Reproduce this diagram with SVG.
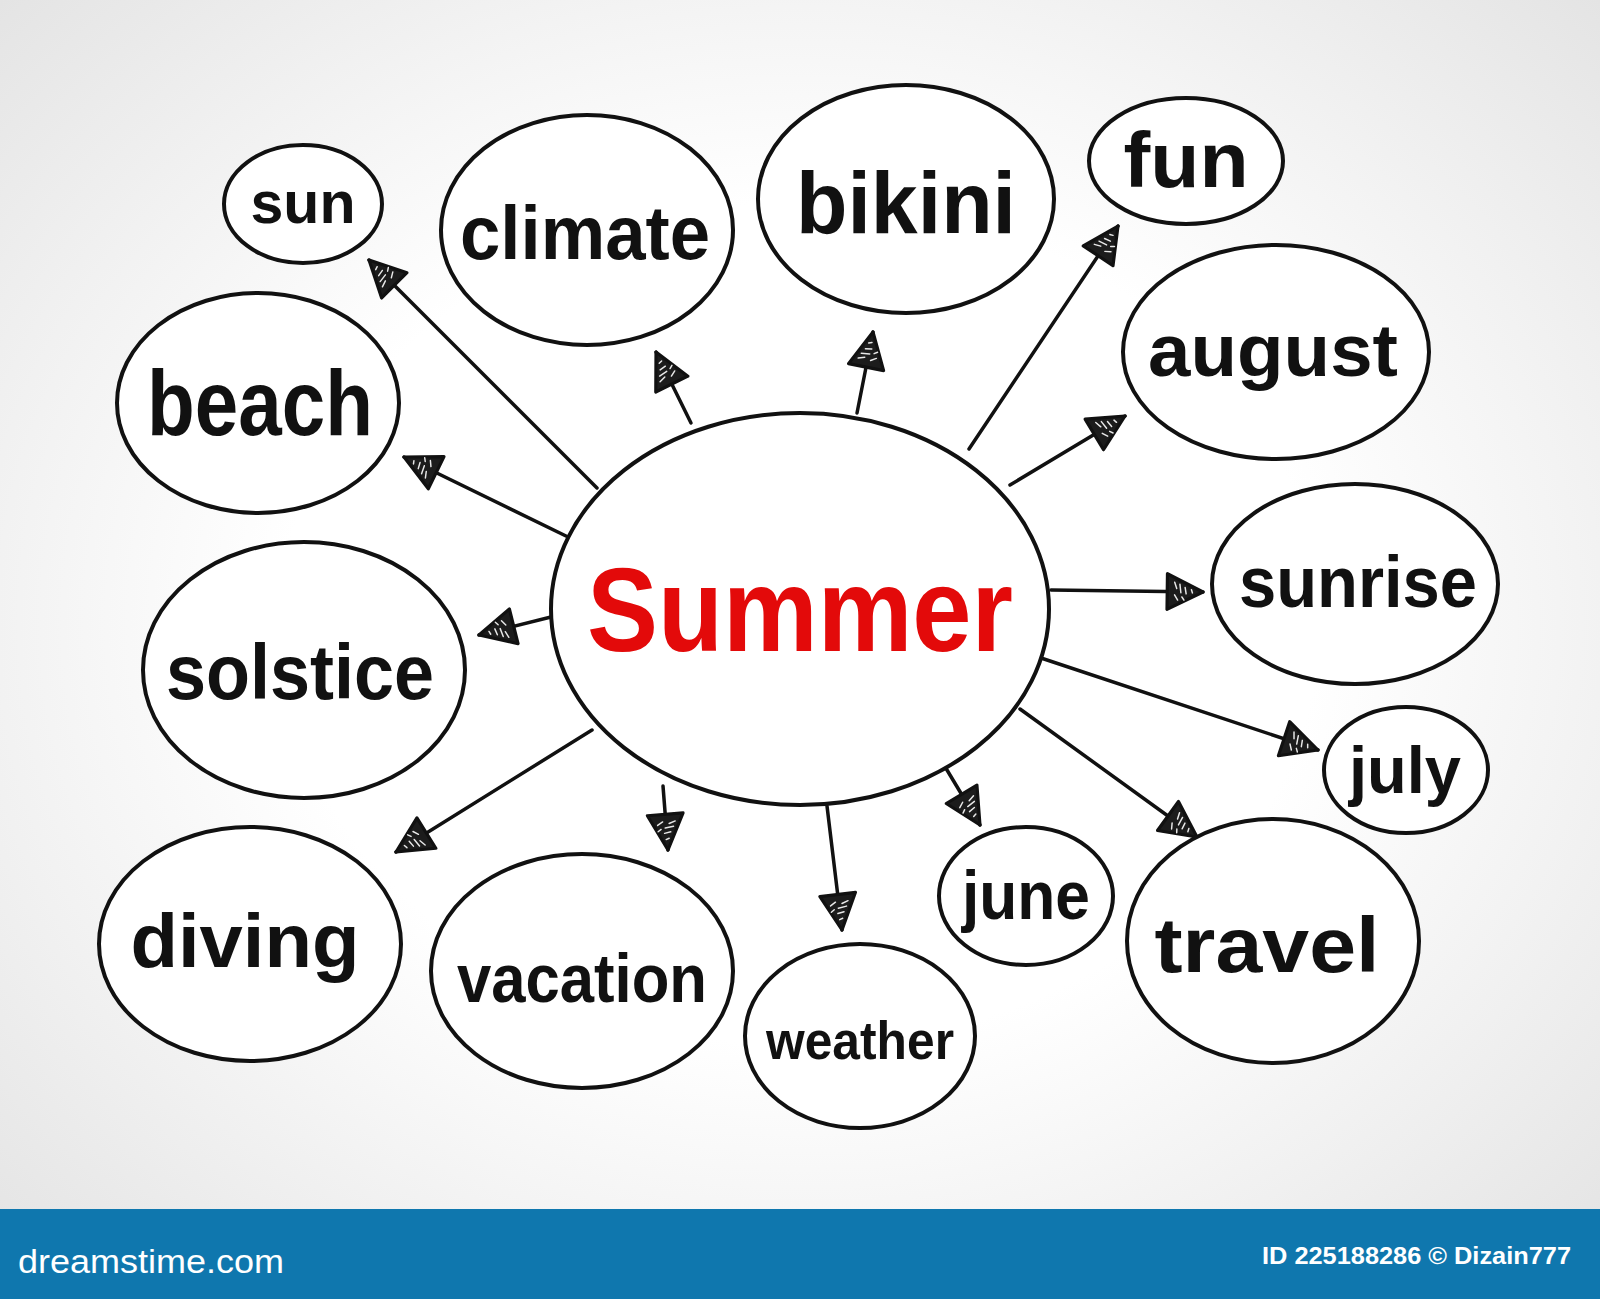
<svg xmlns="http://www.w3.org/2000/svg" width="1600" height="1299" viewBox="0 0 1600 1299">
<defs>
<radialGradient id="bg" cx="50%" cy="48%" r="72%">
<stop offset="0.45" stop-color="#ffffff"/>
<stop offset="1" stop-color="#e2e2e2"/>
</radialGradient>
<marker id="ah" markerUnits="userSpaceOnUse" markerWidth="40" markerHeight="40" viewBox="0 0 38 38" refX="36" refY="19" orient="auto">
<path d="M2,2 L36,19 L2,36 Z" fill="#1c1c1c" stroke="#111" stroke-width="3" stroke-linejoin="round"/>
<path d="M9,10 L11,16 M14,12 L15,20 M9,22 L12,27 M19,15 L20,21 M16,24 L18,27 M25,17 L26,20" stroke="#e8e8e8" stroke-width="1.4" stroke-linecap="round"/>
</marker>
<style>
.n ellipse{fill:#fff;stroke:#111;stroke-width:4}
.n text{font-family:"Liberation Sans",Arial,sans-serif;font-weight:bold;fill:#111;text-anchor:middle;dominant-baseline:central}
#connectors line{stroke:#111;stroke-width:3.5;stroke-linecap:round;marker-end:url(#ah)}
</style>
</defs>
<rect width="1600" height="1299" fill="url(#bg)"/>

<g id="connectors">
<line x1="597" y1="488" x2="369" y2="260"/>
<line x1="691" y1="423" x2="656" y2="352"/>
<line x1="857" y1="413" x2="873" y2="332"/>
<line x1="969" y1="449" x2="1118" y2="226"/>
<line x1="1010" y1="485" x2="1125" y2="416"/>
<line x1="566" y1="536" x2="404" y2="457"/>
<line x1="1051" y1="590" x2="1203" y2="592"/>
<line x1="551" y1="617" x2="479" y2="635"/>
<line x1="1041" y1="658" x2="1318" y2="750"/>
<line x1="1020" y1="709" x2="1197" y2="837"/>
<line x1="944" y1="765" x2="980" y2="825"/>
<line x1="827" y1="806" x2="842" y2="930"/>
<line x1="663" y1="786" x2="668" y2="850"/>
<line x1="592" y1="730" x2="396" y2="852"/>
</g>

<g id="center" class="n">
<ellipse cx="800" cy="609" rx="249" ry="196" stroke-width="5"/>
<text x="800" y="610" font-size="118" textLength="426" lengthAdjust="spacingAndGlyphs" style="fill:#e30a0a">Summer</text>
</g>
<g id="sun" class="n"><ellipse cx="303" cy="204" rx="79" ry="59"/><text x="303" y="202" font-size="60" textLength="105" lengthAdjust="spacingAndGlyphs">sun</text></g>
<g id="climate" class="n"><ellipse cx="587" cy="230" rx="146" ry="115"/><text x="585" y="232" font-size="76" textLength="250" lengthAdjust="spacingAndGlyphs">climate</text></g>
<g id="bikini" class="n"><ellipse cx="906" cy="199" rx="148" ry="114"/><text x="906" y="202" font-size="88" textLength="220" lengthAdjust="spacingAndGlyphs">bikini</text></g>
<g id="fun" class="n"><ellipse cx="1186" cy="161" rx="97" ry="63"/><text x="1186" y="160" font-size="78" textLength="125" lengthAdjust="spacingAndGlyphs">fun</text></g>
<g id="august" class="n"><ellipse cx="1276" cy="352" rx="153" ry="107"/><text x="1273" y="350" font-size="74" textLength="250" lengthAdjust="spacingAndGlyphs">august</text></g>
<g id="beach" class="n"><ellipse cx="258" cy="403" rx="141" ry="110"/><text x="260" y="403" font-size="92" textLength="226" lengthAdjust="spacingAndGlyphs">beach</text></g>
<g id="sunrise" class="n"><ellipse cx="1355" cy="584" rx="143" ry="100"/><text x="1358" y="582" font-size="72" textLength="238" lengthAdjust="spacingAndGlyphs">sunrise</text></g>
<g id="solstice" class="n"><ellipse cx="304" cy="670" rx="161" ry="128"/><text x="300" y="672" font-size="78" textLength="268" lengthAdjust="spacingAndGlyphs">solstice</text></g>
<g id="july" class="n"><ellipse cx="1406" cy="770" rx="82" ry="63"/><text x="1405" y="770" font-size="66" textLength="112" lengthAdjust="spacingAndGlyphs">july</text></g>
<g id="diving" class="n"><ellipse cx="250" cy="944" rx="151" ry="117"/><text x="245" y="940" font-size="76" textLength="229" lengthAdjust="spacingAndGlyphs">diving</text></g>
<g id="vacation" class="n"><ellipse cx="582" cy="971" rx="151" ry="117"/><text x="582" y="978" font-size="68" textLength="250" lengthAdjust="spacingAndGlyphs">vacation</text></g>
<g id="weather" class="n"><ellipse cx="860" cy="1036" rx="115" ry="92"/><text x="860" y="1040" font-size="54" textLength="188" lengthAdjust="spacingAndGlyphs">weather</text></g>
<g id="june" class="n"><ellipse cx="1026" cy="896" rx="87" ry="69"/><text x="1026" y="895" font-size="68" textLength="128" lengthAdjust="spacingAndGlyphs">june</text></g>
<g id="travel" class="n"><ellipse cx="1273" cy="941" rx="146" ry="122"/><text x="1267" y="945" font-size="78" textLength="225" lengthAdjust="spacingAndGlyphs">travel</text></g>

<rect x="0" y="1209" width="1600" height="90" fill="#0f77ae"/>
<text x="18" y="1273" font-family="'Liberation Sans',Arial,sans-serif" font-size="34" fill="#fff" textLength="266" lengthAdjust="spacingAndGlyphs">dreamstime.com</text>
<text x="1571" y="1264" font-family="'Liberation Sans',Arial,sans-serif" font-size="24" font-weight="bold" fill="#fff" text-anchor="end" textLength="309" lengthAdjust="spacingAndGlyphs">ID 225188286 © Dizain777</text>
</svg>
